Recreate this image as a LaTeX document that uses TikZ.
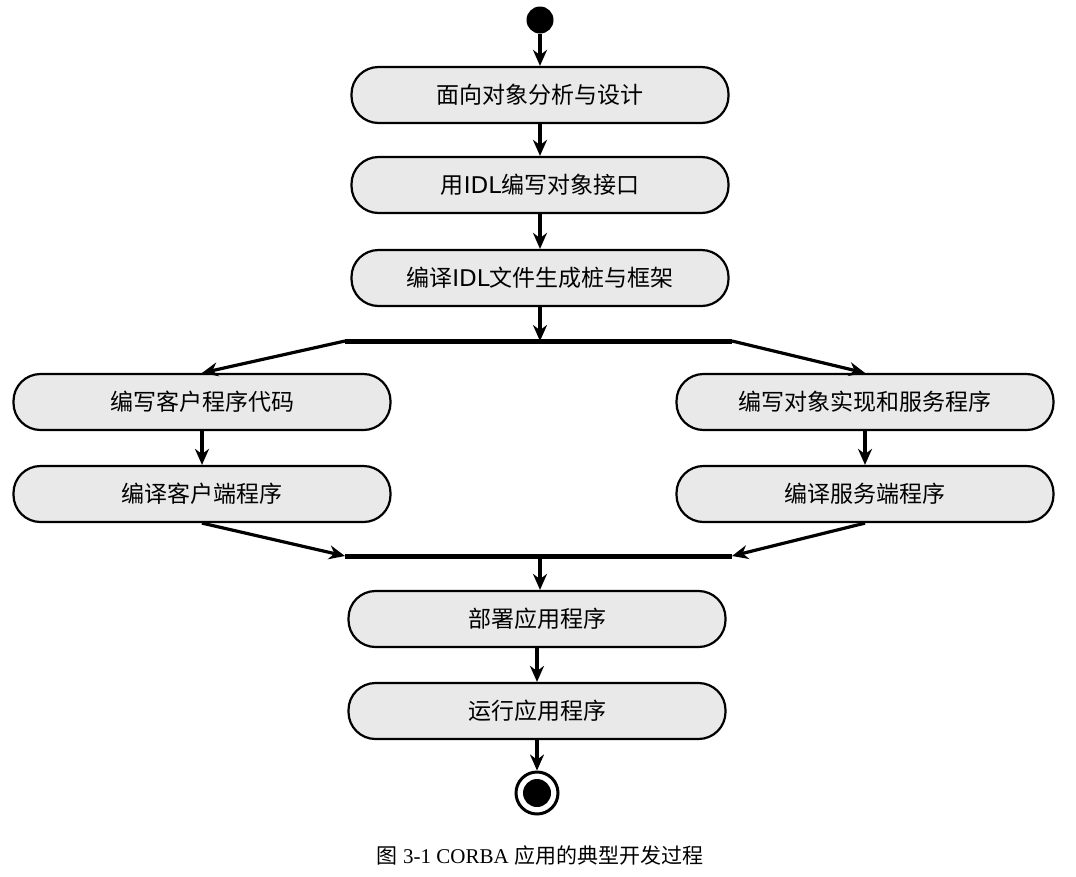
\documentclass[tikz,border=0pt]{standalone}
\usepackage{fontspec}
\setmainfont{Liberation Serif}
\newfontfamily\cjk{Noto Sans CJK SC}
\newfontfamily\lat{DejaVu Sans}
\usetikzlibrary{arrows.meta}
\begin{document}
\begin{tikzpicture}[x=1pt,y=-1pt,
  act/.style={draw,line width=2.2pt,fill=gray!17,rounded corners=27pt,minimum width=377pt,minimum height=56pt,font=\cjk\fontsize{23}{26}\selectfont},
  bar/.style={line width=5pt},
  arr/.style={line width=3.2pt,-{Stealth[length=16pt,width=14pt]}}]
\useasboundingbox (0,0) rectangle (1076,876);
\node[circle,fill=black,minimum size=27pt,inner sep=0] (s) at (540,20) {};
\node[act] (a1) at (540,95) {面向对象分析与设计};
\node[act] (a2) at (540,185) {用{\lat IDL}编写对象接口};
\node[act] (a3) at (540,278) {编译{\lat IDL}文件生成桩与框架};
\coordinate (f1) at (345,341); \coordinate (f2) at (732,341); \coordinate (fm) at (540,341);
\draw[bar] (f1) -- (f2);
\node[act] (l1) at (202,402) {编写客户程序代码};
\node[act] (l2) at (202,494) {编译客户端程序};
\node[act] (r1) at (865,402) {编写对象实现和服务程序};
\node[act] (r2) at (865,494) {编译服务端程序};
\coordinate (j1) at (345,556); \coordinate (j2) at (732,556); \coordinate (jm) at (540,556);
\draw[bar] (j1) -- (j2);
\node[act] (b1) at (537,619) {部署应用程序};
\node[act] (b2) at (537,711) {运行应用程序};
\node[circle,draw,line width=3pt,minimum size=42pt,inner sep=0] (e) at (537,793) {};
\node[circle,fill=black,minimum size=28pt,inner sep=0] at (e) {};
\draw[arr] (s) -- (a1);
\draw[arr] (a1) -- (a2);
\draw[arr] (a2) -- (a3);
\draw[arr] (a3) -- (fm);
\draw[arr] (f1) -- (l1.north);
\draw[arr] (f2) -- (r1.north);
\draw[arr] (l1) -- (l2);
\draw[arr] (r1) -- (r2);
\draw[arr] (l2.south) -- (j1);
\draw[arr] (r2.south) -- (j2);
\draw[arr] (jm) -- (b1.north -| jm);
\draw[arr] (b1) -- (b2);
\draw[arr] (b2) -- (e);
\node[font=\fontsize{21}{24}\selectfont] (cap) at (540,855) {{\cjk 图} 3-1 CORBA {\cjk 应用的典型开发过程}};
\end{tikzpicture}
\end{document}
